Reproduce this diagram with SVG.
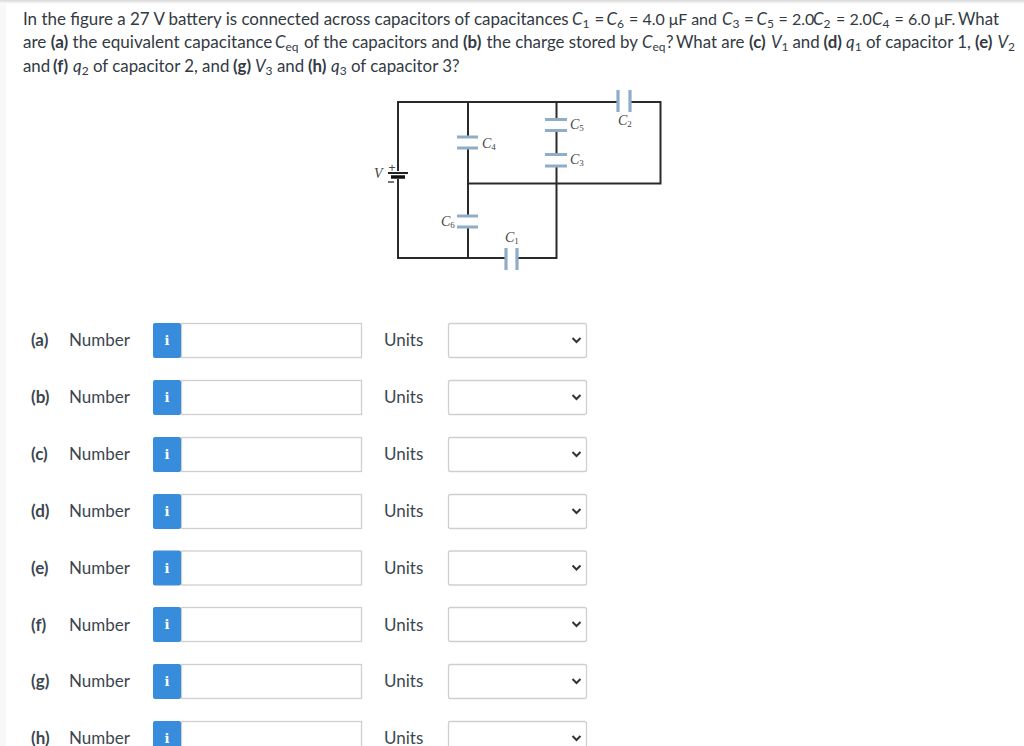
<svg xmlns="http://www.w3.org/2000/svg" width="1024" height="746" viewBox="0 0 1024 746">
<style>
text{font-family:Lato,"Liberation Sans",sans-serif;fill:#333a42}
.p{font-size:16.85px}
.m{font-size:16px}
.b{font-weight:700}
.i{font-style:italic}
.s{font-size:12px}
.l{font-size:17px;fill:#3c4650}
.k{font-size:17px;font-weight:700;fill:#3c4650}
.w{fill:none;stroke:#2a2a2a;stroke-width:2}
.c{stroke:#8fadc6;stroke-width:3.200;fill:none}
.cl{font-family:"Liberation Serif",serif;font-style:italic;font-size:14px;fill:#444}
.cs{font-size:9px;font-style:normal}
.btn{fill:#378cdc}
.box{fill:#fff;stroke:#cfcfcf;stroke-width:1.3}
.ch{fill:none;stroke:#333;stroke-width:2}
.ic{font-family:"DejaVu Serif",serif;font-weight:700;font-size:13px;fill:#fff;text-anchor:middle}
</style>
<defs>
<linearGradient id="top" x1="0" y1="0" x2="0" y2="1"><stop offset="0" stop-color="#d8d8d8"/><stop offset="1" stop-color="#fff"/></linearGradient>
<g id="row">
<rect class="box" x="181.5" y="323.5" width="180" height="34"/>
<rect class="btn" x="153" y="323" width="28" height="35" rx="2"/>
<text class="ic" x="167" y="345">i</text>
<rect class="box" x="448.5" y="323.5" width="138" height="34" rx="2"/>
<path class="ch" d="M572.5 338l4 4 4-4"/>
</g>
</defs>
<rect width="1024" height="746" fill="#fff"/>
<rect x="0" y="0" width="6" height="746" fill="#f8f8f8"/>
<rect x="0" y="0" width="1024" height="4" fill="url(#top)"/>
<g id="question">
<text class="p" x="23" y="25"><tspan style="font-size:16.95px">In the figure a 27 V battery is connected across capacitors of capacitances</tspan> <tspan class="i" x="572">C</tspan><tspan class="s" dy="3">1</tspan><tspan dy="-3" x="594.500">=</tspan> <tspan class="i" x="606.500">C</tspan><tspan class="s" dy="3">6</tspan><tspan class="m" dy="-3" x="629">= 4.0 μF and</tspan> <tspan class="i" x="722">C</tspan><tspan class="s" dy="3">3</tspan><tspan dy="-3" x="744">=</tspan> <tspan class="i" x="756.500">C</tspan><tspan class="s" dy="3">5</tspan><tspan class="m" dy="-3" x="778.500">= 2.0</tspan><tspan class="i" x="813">C</tspan><tspan class="s" dy="3">2</tspan><tspan class="m" dy="-3" x="836">= 2.0</tspan><tspan class="i" x="872">C</tspan><tspan class="s" dy="3">4</tspan><tspan class="m" dy="-3" x="894.500">= 6.0 μF.</tspan> <tspan x="958">What</tspan></text>
<text class="p" x="23" y="48"><tspan style="font-size:17.1px">are <tspan class="b">(a)</tspan> the equivalent capacitance</tspan> <tspan class="i" x="275">C</tspan><tspan class="s" dy="3">eq</tspan><tspan dy="-3" x="304">of the capacitors and</tspan> <tspan class="b" x="463">(b)</tspan> <tspan x="486.500">the charge stored by</tspan> <tspan class="i" x="642">C</tspan><tspan class="s" dy="3">eq</tspan><tspan dy="-3" x="666">?</tspan> <tspan x="676">What are</tspan> <tspan class="b" x="749">(c)</tspan> <tspan class="i" x="771">V</tspan><tspan class="s" dy="3">1</tspan><tspan dy="-3" x="792.500">and</tspan> <tspan class="b" x="823.500">(d)</tspan> <tspan class="i" x="846">q</tspan><tspan class="s" dy="3">1</tspan><tspan dy="-3" x="866">of capacitor 1,</tspan> <tspan class="b" x="975">(e)</tspan> <tspan class="i" x="997.500">V</tspan><tspan class="s" dy="3">2</tspan></text>
<text class="p" x="23" y="72">and <tspan class="b" x="53">(f)</tspan> <tspan class="i" x="73">q</tspan><tspan class="s" dy="3">2</tspan><tspan dy="-3" x="93">of capacitor 2, and</tspan> <tspan class="b" x="233">(g)</tspan> <tspan class="i" x="255">V</tspan><tspan class="s" dy="3">3</tspan><tspan dy="-3" x="277">and</tspan> <tspan class="b" x="308">(h)</tspan> <tspan class="i" x="331">q</tspan><tspan class="s" dy="3">3</tspan><tspan dy="-3" x="351">of capacitor 3?</tspan></text>
</g>
<g id="connectors">
<path class="w" d="M398 171V102H618M630 102H660.5V183.5H468M398 179V258H506M517 258H556.5V183.5"/>
<path class="w" d="M468 102V137M468 148V216M468 227V258M556.5 102V119M556.5 130V154M556.5 166V184"/>
</g>
<g id="battery">
<path d="M388 173H408" stroke="#222" stroke-width="2" fill="none"/>
<path d="M391 177H405" stroke="#111" stroke-width="3.500" fill="none"/>
<text class="cl" x="374" y="178">V</text>
<text x="388.500" y="172" style="font-size:12px;font-family:'Liberation Sans',sans-serif;fill:#444">+</text>
<path d="M388 182H394" stroke="#444" stroke-width="1.500"/>
</g>
<g id="C1"><path class="c" d="M506 248V270M517 248V270"/><text class="cl" x="505" y="242">C<tspan class="cs" dy="2">1</tspan></text></g>
<g id="C2"><path class="c" d="M618 90V112M630 90V112"/><text class="cl" x="618" y="125">C<tspan class="cs" dy="2">2</tspan></text></g>
<g id="C3"><path class="c" d="M545 154.500H567M545 166H567"/><text class="cl" x="570" y="164">C<tspan class="cs" dy="2">3</tspan></text></g>
<g id="C4"><path class="c" d="M457 137H478M457 148H478"/><text class="cl" x="482" y="148">C<tspan class="cs" dy="2">4</tspan></text></g>
<g id="C5"><path class="c" d="M545 119.500H567M545 130.500H567"/><text class="cl" x="570" y="129">C<tspan class="cs" dy="2">5</tspan></text></g>
<g id="C6"><path class="c" d="M457 216H478M457 227H478"/><text class="cl" x="441" y="226">C<tspan class="cs" dy="2">6</tspan></text></g>
<g id="row-a"><use href="#row"/><text class="k" x="31" y="346">(a)</text><text class="l" x="69" y="346">Number</text><text class="l" x="384" y="346">Units</text></g>
<g id="row-b"><use href="#row" y="57"/><text class="k" x="31" y="403">(b)</text><text class="l" x="69" y="403">Number</text><text class="l" x="384" y="403">Units</text></g>
<g id="row-c"><use href="#row" y="114"/><text class="k" x="31" y="460">(c)</text><text class="l" x="69" y="460">Number</text><text class="l" x="384" y="460">Units</text></g>
<g id="row-d"><use href="#row" y="171"/><text class="k" x="31" y="517">(d)</text><text class="l" x="69" y="517">Number</text><text class="l" x="384" y="517">Units</text></g>
<g id="row-e"><use href="#row" y="227.500"/><text class="k" x="31" y="573.500">(e)</text><text class="l" x="69" y="573.500">Number</text><text class="l" x="384" y="573.500">Units</text></g>
<g id="row-f"><use href="#row" y="284"/><text class="k" x="31" y="630.500">(f)</text><text class="l" x="69" y="630.500">Number</text><text class="l" x="384" y="630.500">Units</text></g>
<g id="row-g"><use href="#row" y="341"/><text class="k" x="31" y="687">(g)</text><text class="l" x="69" y="687">Number</text><text class="l" x="384" y="687">Units</text></g>
<g id="row-h"><use href="#row" y="398"/><text class="k" x="31" y="744">(h)</text><text class="l" x="69" y="744">Number</text><text class="l" x="384" y="744">Units</text></g>
</svg>
